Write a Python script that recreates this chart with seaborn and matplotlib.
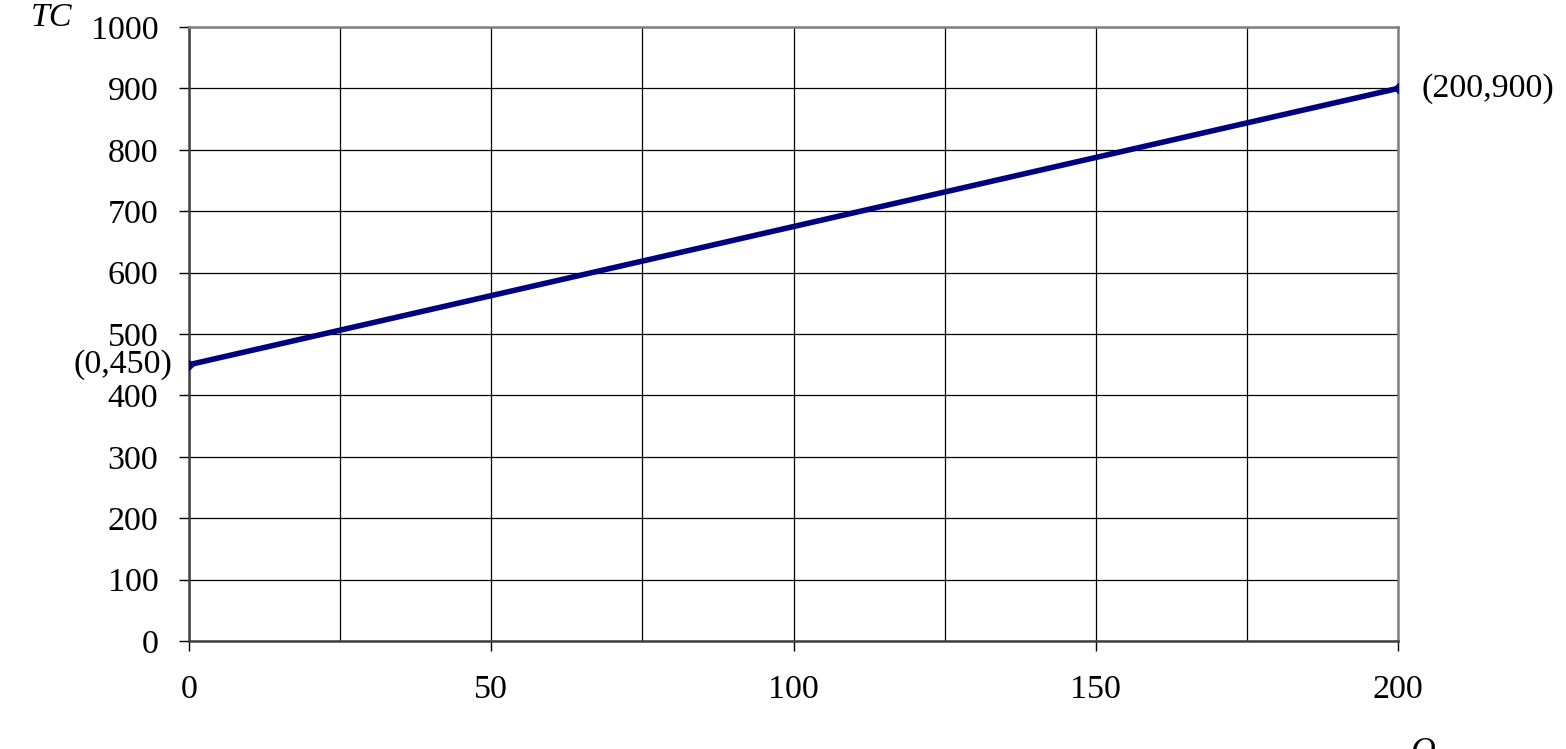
import matplotlib
matplotlib.use("Agg")
import matplotlib.pyplot as plt
import seaborn as sns
import pandas as pd
import numpy as np

q_values = [0, 200]
tc_values = [450, 900]
x_ticks = [0, 50, 100, 150, 200]
y_ticks = [0, 100, 200, 300, 400, 500, 600, 700, 800, 900, 1000]
annotations = ["(0,450)", "(200,900)"]

sns.set_theme(style="white")
plt.rcParams['font.family'] = ['Liberation Serif', 'DejaVu Serif']
plt.rcParams['text.color'] = 'black'
plt.rcParams['xtick.color'] = 'black'
plt.rcParams['ytick.color'] = 'black'
plt.rcParams['xtick.labelcolor'] = 'black'
plt.rcParams['ytick.labelcolor'] = 'black'

FS = 24.5

fig = plt.figure(figsize=(15.66, 7.49), dpi=100)
ax = fig.add_axes([189/1566, 1-641/749, (1398-189)/1566, (641-27)/749])

df = pd.DataFrame({"Q": q_values, "TC": tc_values})
sns.lineplot(data=df, x="Q", y="TC", ax=ax, color="#000080", linewidth=4.0,
             marker="D", markersize=5, markeredgecolor="#000080", zorder=5)

ax.set_xlim(0, 200)
ax.set_ylim(0, 1000)
ax.set_xticks(x_ticks)
ax.set_xticks(np.arange(0, 201, 25), minor=True)
ax.set_yticks(y_ticks)
ax.grid(True, which="both", axis="x", color="black", linewidth=0.9)
ax.grid(True, which="major", axis="y", color="black", linewidth=0.9)
ax.set_axisbelow(True)

ax.tick_params(axis="x", which="major", direction="out", length=7, width=1, color="black",
               pad=17, labelsize=FS, bottom=True, labelcolor="black")
ax.tick_params(axis="x", which="minor", length=0)
ax.tick_params(axis="y", which="major", direction="out", length=7, width=1, color="black",
               pad=15, labelsize=FS, left=True, labelcolor="black")

ax.set_xlabel("")
ax.set_ylabel("")
for s in ["left", "bottom"]:
    ax.spines[s].set_color("#404040")
    ax.spines[s].set_linewidth(1.8)
for s in ["top", "right"]:
    ax.spines[s].set_color("#808080")
    ax.spines[s].set_linewidth(1.8)

ax.annotate(annotations[0], xy=(q_values[0], tc_values[0]), xytext=(-12, 0),
            textcoords="offset points", ha="right", va="center", fontsize=FS, color="black")
ax.annotate(annotations[1], xy=(q_values[1], tc_values[1]), xytext=(17, 0),
            textcoords="offset points", ha="left", va="center", fontsize=FS, color="black")

fig.text(52/1566, 1-18/749, "TC", style="italic", ha="center", va="center", fontsize=FS, color="black")
fig.text(1422/1566, 1-767/749, "Q", style="italic", ha="center", va="bottom", fontsize=FS, color="black")

fig.savefig("out.png", dpi=100)
